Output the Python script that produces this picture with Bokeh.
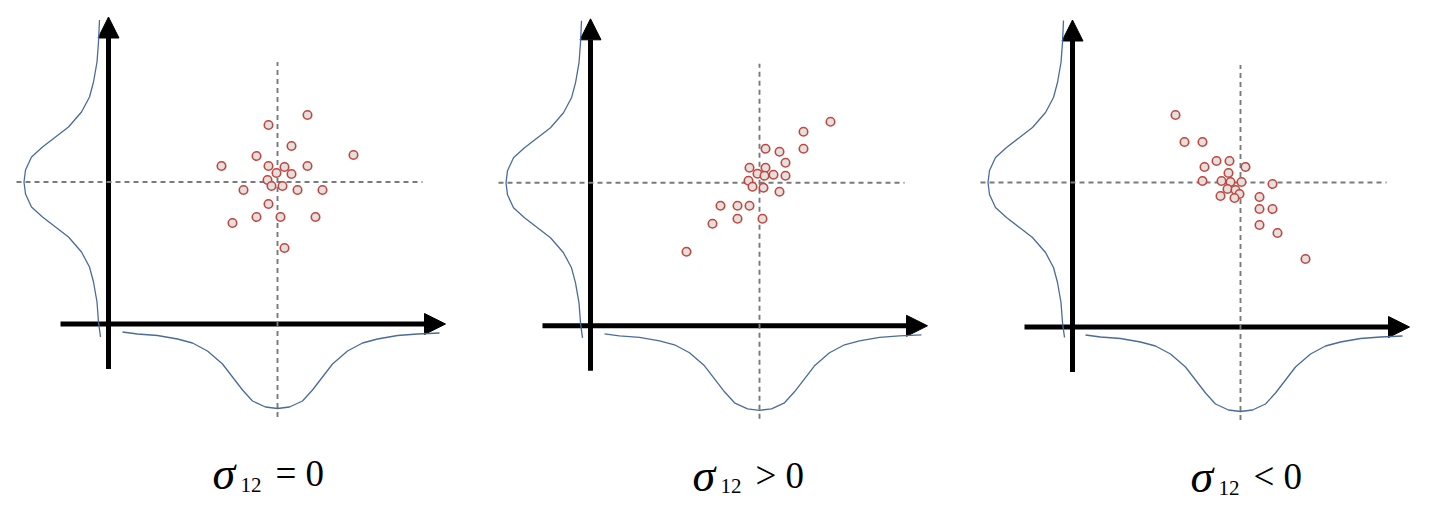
from bokeh.plotting import figure
from bokeh.layouts import row
from bokeh.models import Range1d, Arrow, NormalHead
from bokeh.core.properties import value
from bokeh.embed import file_html
from bokeh.resources import INLINE

# ---------------- data (units: 1 = 10 px, origin at each panel's axes crossing) ----------------
symbol = "σ"
subscript = "12"
relations = ["= 0", "> 0", "< 0"]

mean_x = [16.9, 16.9, 16.8]
mean_y = [14.2, 14.3, 14.45]

p1_x = [19.9, 16.0, 18.3, 14.8, 24.5, 11.3, 16.0, 17.6, 19.9, 16.8, 18.3, 15.9,
        16.3, 17.4, 13.5, 18.9, 21.4, 16.0, 14.8, 17.2, 20.7, 12.4, 17.6]
p1_y = [20.9, 19.9, 17.8, 16.8, 16.9, 15.8, 15.8, 15.7, 15.8, 15.1, 15.0, 14.4,
        13.8, 13.8, 13.4, 13.4, 13.4, 12.0, 10.7, 10.7, 10.7, 10.1, 7.6]

p2_x = [24.0, 21.3, 21.3, 17.5, 18.9, 19.5, 15.9, 17.5, 16.7, 17.4, 18.3, 19.5,
        15.8, 16.2, 17.3, 18.9, 13.0, 14.7, 15.9, 14.7, 17.2, 12.2, 9.6]
p2_y = [20.4, 19.4, 17.7, 17.7, 17.4, 16.3, 15.8, 15.8, 15.2, 15.0, 15.1, 15.0,
        14.5, 13.9, 13.8, 13.4, 12.0, 12.0, 12.0, 10.7, 10.7, 10.2, 7.4]

p3_x = [10.3, 11.2, 13.0, 14.4, 15.7, 13.2, 17.3, 15.6, 13.0, 14.9, 15.8, 16.9,
        20.0, 15.5, 16.3, 16.7, 14.8, 16.2, 18.7, 18.7, 20.0, 18.7, 20.5, 23.3]
p3_y = [21.2, 18.5, 18.5, 16.6, 16.6, 16.0, 16.0, 15.4, 14.6, 14.6, 14.5, 14.5,
        14.3, 13.8, 13.7, 13.3, 13.1, 12.9, 13.0, 11.8, 11.8, 10.2, 9.4, 6.8]

# marginal density profile (offset from the mean, height)
dens_offset = [-15.5, -14, -12, -10, -8.5, -7, -5.5, -4.5, -3.5, -2.5, -1.2, 0,
               1.2, 2.5, 3.5, 4.5, 5.5, 7, 8.5, 10, 12, 14, 16.2]
dens_height = [0.0, 0.2, 0.35, 0.7, 1.1, 1.9, 3.2, 4.5, 5.8, 6.9, 7.5, 7.65,
               7.5, 6.9, 5.8, 4.5, 3.2, 1.9, 1.1, 0.7, 0.35, 0.2, 0.1]

points = [(p1_x, p1_y), (p2_x, p2_y), (p3_x, p3_y)]

# ---------------- layout / style constants ----------------
PX = 10.0
fig_left = [0, 482, 964]
fig_w = [482, 482, 480]
origin_px = [(108, 323.5), (590, 325.3), (1072, 326.5)]
TOP, H = 0, 508
label_x = [10.4, 10.2, 11.8]
curve_gap = -0.8
x_axis_span = (-4.8, 33.7)
y_axis_span = (-4.5, 30.7)
h_guide_span = (-9.2, 31.4)
v_guide_span = (-9.3, 26.2)

CURVE = "#4a6b9c"
GUIDE = "#7a7a7a"
PT_LINE = "#c4453c"
PT_FILL = "#e3e0e0"
FONT = value("Liberation Serif")

figs = []
for i in range(3):
    ox, oy = origin_px[i]
    p = figure(width=fig_w[i], height=H, output_backend="svg", toolbar_location=None,
               x_range=Range1d((fig_left[i] - ox) / PX, (fig_left[i] + fig_w[i] - ox) / PX),
               y_range=Range1d((oy - (TOP + H)) / PX, (oy - TOP) / PX),
               x_axis_type=None, y_axis_type=None, min_border=0,
               outline_line_color=None, background_fill_color="white",
               border_fill_color="white")
    p.grid.visible = False

    # axes arrows
    p.add_layout(Arrow(end=NormalHead(size=21, fill_color="black", line_color="black", line_width=1),
                       x_start=x_axis_span[0], y_start=0, x_end=x_axis_span[1], y_end=0,
                       line_width=5, line_color="black", level="underlay"))
    p.add_layout(Arrow(end=NormalHead(size=21, fill_color="black", line_color="black", line_width=1),
                       x_start=0, y_start=y_axis_span[0], x_end=0, y_end=y_axis_span[1],
                       line_width=5, line_color="black", level="underlay"))

    mx, my = mean_x[i], mean_y[i]
    # dashed mean guides
    p.line([mx, mx], list(v_guide_span), line_color=GUIDE, line_width=1.9, line_dash="5 4")
    p.line(list(h_guide_span), [my, my], line_color=GUIDE, line_width=1.9, line_dash="5 4")

    # marginal densities
    p.line([curve_gap - h for h in dens_height], [my + o for o in dens_offset],
           line_color=CURVE, line_width=1.3)
    p.line([mx + o for o in dens_offset], [curve_gap - h for h in dens_height],
           line_color=CURVE, line_width=1.3)

    # scatter
    xs, ys = points[i]
    p.scatter(xs, ys, size=8.5, fill_color=PT_FILL, line_color=PT_LINE, line_width=1.6)

    # label  sigma_12 ? 0
    lx = label_x[i]
    p.text(x=[lx], y=[-14.95], text=[symbol], text_font=FONT, text_font_size="46px",
           text_font_style="italic", text_align="left", text_baseline="alphabetic",
           text_color="black")
    p.text(x=[lx + 2.8], y=[-16.05], text=[subscript], text_font=FONT, text_font_size="21px",
           text_align="left", text_baseline="alphabetic", text_color="black")
    p.text(x=[lx + 6.3], y=[-14.95], text=[relations[i]], text_font=FONT, text_font_size="37px",
           text_align="left", text_baseline="alphabetic", text_color="black")
    figs.append(p)

layout = row(*figs, spacing=0)
open("out.html", "w").write(file_html(layout, INLINE))
